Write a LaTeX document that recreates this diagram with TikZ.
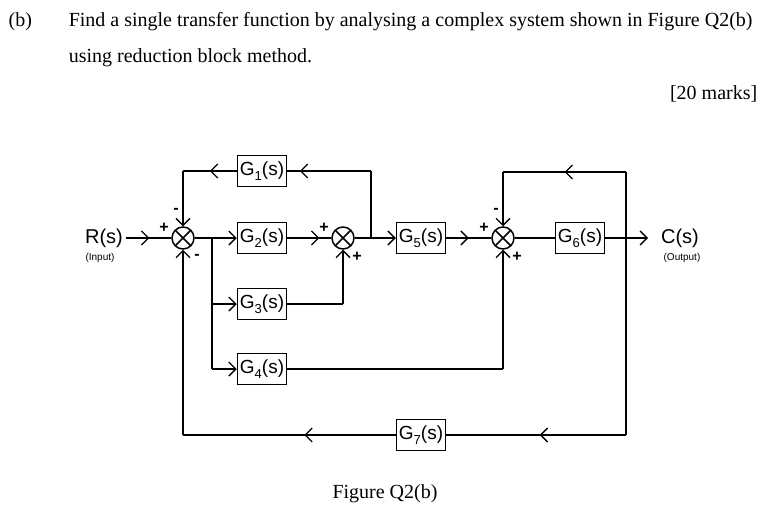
\documentclass[tikz,border=0pt]{standalone}
\usepackage{fontspec}
\setmainfont{Liberation Serif}
\newfontfamily\dsans{Liberation Sans}
\usetikzlibrary{arrows.meta,decorations.markings}
\begin{document}
\begin{tikzpicture}[x=1pt,y=-1pt,
  tip/.tip={Straight Barb[length=7pt,width=14pt,line width=1.3pt]},
  every path/.style={line width=1.5pt},
  blk/.style={draw,font=\dsans\fontsize{19}{19}\selectfont,minimum width=49pt,minimum height=31pt,inner sep=0pt},
  sum/.style={circle,draw,minimum size=22pt,inner sep=0pt,path picture={
     \draw (path picture bounding box.north west)--(path picture bounding box.south east)
           (path picture bounding box.north east)--(path picture bounding box.south west);}},
  sgn/.style={font=\dsans\bfseries\fontsize{16}{16}\selectfont},
  lbl/.style={font=\dsans\fontsize{20}{20}\selectfont},
  sml/.style={font=\dsans\fontsize{10}{10}\selectfont},
  end/.style={-tip},
  midarr/.style={postaction={decorate},decoration={markings,mark=at position #1 with {\arrow{tip}}}},
  txt/.style={font=\fontsize{20}{20}\selectfont,inner sep=0pt}]
\useasboundingbox (0,0) rectangle (768,514);
\newcommand{\sbs}[1]{\raisebox{-0.45ex}{\fontsize{13}{13}\selectfont #1}}
% text
\node[txt,anchor=west] (b) at (8,22) {(b)};
\node[txt,anchor=west] (t1) at (68,22) {Find a single transfer function by analysing a complex system shown in Figure Q2(b)};
\node[txt,anchor=west] (t2) at (68,58) {using reduction block method.};
\node[txt,anchor=east] (mk) at (758,94) {[20 marks]};
\node[txt] (fig) at (385,494) {Figure Q2(b)};
% blocks
\node[sum] (S1) at (183,238) {};
\node[sum] (S2) at (343,238) {};
\node[sum] (S3) at (503,238) {};
\node[blk] (G1) at (262,171) {G\sbs{1}(s)};
\node[blk] (G2) at (262,238) {G\sbs{2}(s)};
\node[blk] (G3) at (262,304) {G\sbs{3}(s)};
\node[blk] (G4) at (262,369) {G\sbs{4}(s)};
\node[blk] (G5) at (421,238) {G\sbs{5}(s)};
\node[blk] (G6) at (580,238) {G\sbs{6}(s)};
\node[blk] (G7) at (421,435) {G\sbs{7}(s)};
\node[lbl,inner sep=2pt] (R) at (104,238) {R(s)};
\node[sml] (Ri) at (100,258) {(Input)};
\node[lbl] (C) at (680,238) {C(s)};
\node[sml] (Co) at (682,258) {(Output)};
% signs
\node[sgn] (p1) at (164,228) {+};
\node[sgn] (m1) at (176,211) {-};
\node[sgn] (m2) at (197,257) {-};
\node[sgn] (p2) at (324,228) {+};
\node[sgn] (p3) at (357,257) {+};
\node[sgn] (p4) at (484,228) {+};
\node[sgn] (m3) at (496,211) {-};
\node[sgn] (p5) at (517,257) {+};
% coordinates
\coordinate (b1) at (371,238); \coordinate (c1) at (371,171); \coordinate (c2) at (183,171);
\coordinate (out) at (648,238); \coordinate (c3) at (626,238); \coordinate (c4) at (626,172);
\coordinate (c5) at (503,172); \coordinate (c6) at (626,435); \coordinate (c7) at (183,435);
\coordinate (b2) at (212,238); \coordinate (c8) at (212,304); \coordinate (c9) at (212,369);
\coordinate (c10) at (343,304); \coordinate (c11) at (503,369);
% connectors
\draw[midarr=0.52] (R) -- (S1);
\draw[end] (S1) -- (G2);
\draw[midarr=0.73] (G2) -- (S2);
\draw[end] (S2) -- (G5);
\draw (b1) -- (c1);
\draw[midarr=0.85] (c1) -- (G1.east);
\draw[midarr=0.5] (G1.west) -- (c2);
\draw[end] (c2) -- (S1);
\draw[midarr=0.5] (G5) -- (S3);
\draw (S3) -- (G6);
\draw[end] (G6) -- (out);
\draw (c3) -- (c4);
\draw[midarr=0.5] (c4) -- (c5);
\draw[end] (c5) -- (S3);
\draw (c3) -- (c6);
\draw[midarr=0.48] (c6) -- (G7.east);
\draw[midarr=0.43] (G7.west) -- (c7);
\draw[end] (c7) -- (S1);
\draw (b2) -- (c9);
\draw[end] (c8) -- (G3);
\draw[end] (c9) -- (G4);
\draw (G3) -- (c10);
\draw[end] (c10) -- (S2);
\draw (G4) -- (c11);
\draw[end] (c11) -- (S3);
\end{tikzpicture}
\end{document}
